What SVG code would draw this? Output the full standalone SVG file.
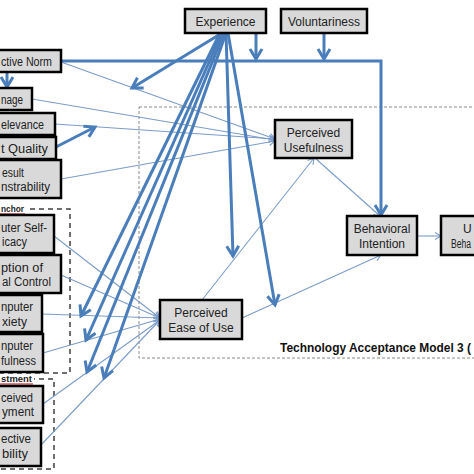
<svg xmlns="http://www.w3.org/2000/svg" width="474" height="474" viewBox="0 0 474 474">
<defs>
<style>
.box{fill:#d9d9d9;stroke:#000;stroke-width:2.5}
.t{font-family:"Liberation Sans",Arial,sans-serif;font-size:12px;fill:#222}
.tm{text-anchor:middle}
.thin{fill:none;stroke:#7b9cc9;stroke-width:1.1}
.thick{fill:none;stroke:#4a7ebb;stroke-width:3}
.grp{fill:none;stroke:#404040;stroke-width:1.5;stroke-dasharray:5,4}
.lbl{font-family:"Liberation Sans",Arial,sans-serif;font-size:9px;font-weight:bold;fill:#222}
</style>
<marker id="ah" markerUnits="userSpaceOnUse" viewBox="-12 -8 14 16" refX="0" refY="0" markerWidth="14" markerHeight="16" orient="auto" overflow="visible">
<path d="M-10,-6 L0,0 L-10,6" fill="none" stroke="#4a7ebb" stroke-width="3"/>
</marker>
<marker id="as" markerUnits="userSpaceOnUse" viewBox="-8 -5 10 10" refX="0" refY="0" markerWidth="10" markerHeight="10" orient="auto" overflow="visible">
<path d="M-6,-3.5 L0,0 L-6,3.5" fill="none" stroke="#7b9cc9" stroke-width="1.1"/>
</marker>
</defs>
<rect width="474" height="474" fill="#fff"/>

<g id="groups">
<rect x="139" y="107" width="400" height="251" fill="none" stroke="#8a8a8a" stroke-width="1" stroke-dasharray="3,2"/>
<rect class="grp" x="-60" y="209" width="130" height="164"/>
<rect class="grp" x="-60" y="379" width="114" height="90"/>
<rect x="0" y="204" width="27" height="11" fill="#fff"/>
<text class="lbl" x="1" y="212" textLength="23" lengthAdjust="spacingAndGlyphs">nchor</text>
<line x1="0" y1="214" x2="25" y2="214" stroke="#c00000" stroke-width="1"/>
<rect x="0" y="374" width="34" height="10" fill="#fff"/>
<text class="lbl" x="1" y="382" textLength="31" lengthAdjust="spacingAndGlyphs">stment</text>
<line x1="0" y1="384" x2="33" y2="384" stroke="#c00000" stroke-width="1"/>
<text x="280" y="352" font-family="Liberation Sans,Arial,sans-serif" font-size="12" font-weight="bold" fill="#111" textLength="191" lengthAdjust="spacingAndGlyphs">Technology Acceptance Model 3 (</text>
</g>

<g id="connectors">
<path class="thin" marker-end="url(#as)" d="M61,62 L275,139"/>
<path class="thin" marker-end="url(#as)" d="M32,99 L275,140"/>
<path class="thin" marker-end="url(#as)" d="M55,124 L275,139"/>
<path class="thin" marker-end="url(#as)" d="M61,179 L275,141"/>
<path class="thin" marker-end="url(#as)" d="M202,300 L314,158"/>
<path class="thin" marker-end="url(#as)" d="M315,158 L380,216"/>
<path class="thin" marker-end="url(#as)" d="M242,318 L381,255"/>
<path class="thin" marker-end="url(#as)" d="M417,236 L441,236"/>
<path class="thin" marker-end="url(#as)" d="M54,236 L160,318"/>
<path class="thin" marker-end="url(#as)" d="M61,275 L160,318"/>
<path class="thin" marker-end="url(#as)" d="M42,314 L160,318"/>
<path class="thin" marker-end="url(#as)" d="M43,353 L160,319"/>
<path class="thin" marker-end="url(#as)" d="M43,404 L160,320"/>
<path class="thin" marker-end="url(#as)" d="M41,445 L160,320"/>

<path class="thick" marker-end="url(#ah)" d="M61,61 L381,61 L381,215"/>
<path class="thick" marker-end="url(#ah)" d="M256,33 L256,59"/>
<path class="thick" marker-end="url(#ah)" d="M324,33 L324,59"/>
<path class="thick" marker-end="url(#ah)" d="M7,72 L7,87"/>
<path class="thick" marker-end="url(#ah)" d="M56,147 L95,127"/>
<path class="thick" marker-end="url(#ah)" d="M222,33 L132,88"/>
<path class="thick" marker-end="url(#ah)" d="M220,33 L81,316"/>
<path class="thick" marker-end="url(#ah)" d="M222,33 L86,340"/>
<path class="thick" marker-end="url(#ah)" d="M224,33 L87,372"/>
<path class="thick" marker-end="url(#ah)" d="M226,33 L104,378"/>
<path class="thick" marker-end="url(#ah)" d="M226,33 L233,256"/>
<path class="thick" marker-end="url(#ah)" d="M228,33 L275,305"/>
</g>

<g id="experience"><rect class="box" x="185" y="9" width="81" height="24"/><text class="t tm" x="225.5" y="25.5">Experience</text></g>
<g id="voluntariness"><rect class="box" x="281" y="9" width="86" height="24"/><text class="t tm" x="324" y="25.5">Voluntariness</text></g>
<g id="subjective-norm"><rect class="box" x="-50" y="50" width="111" height="22"/><text class="t" x="1" y="65.5" textLength="51" lengthAdjust="spacingAndGlyphs">ctive Norm</text></g>
<g id="image"><rect class="box" x="-50" y="88" width="82" height="22"/><text class="t" x="1" y="103.5" textLength="22" lengthAdjust="spacingAndGlyphs">nage</text></g>
<g id="job-relevance"><rect class="box" x="-50" y="113" width="105" height="22"/><text class="t" x="1" y="128.5" textLength="43" lengthAdjust="spacingAndGlyphs">elevance</text></g>
<g id="output-quality"><rect class="box" x="-50" y="137" width="106" height="22"/><text class="t" x="1" y="152.5" textLength="47" lengthAdjust="spacingAndGlyphs">t Quality</text></g>
<g id="result-demonstrability"><rect class="box" x="-50" y="160" width="111" height="38"/><text class="t" x="2" y="177" textLength="22" lengthAdjust="spacingAndGlyphs">esult</text><text class="t" x="1" y="191" textLength="49" lengthAdjust="spacingAndGlyphs">nstrability</text></g>
<g id="computer-self-efficacy"><rect class="box" x="-50" y="215" width="104" height="38"/><text class="t" x="1" y="232" textLength="46" lengthAdjust="spacingAndGlyphs">uter Self-</text><text class="t" x="2" y="246" textLength="25" lengthAdjust="spacingAndGlyphs">icacy</text></g>
<g id="perception-external-control"><rect class="box" x="-50" y="255" width="111" height="38"/><text class="t" x="1" y="272" textLength="42" lengthAdjust="spacingAndGlyphs">ption of</text><text class="t" x="2" y="286" textLength="49" lengthAdjust="spacingAndGlyphs">al Control</text></g>
<g id="computer-anxiety"><rect class="box" x="-50" y="295" width="92" height="37"/><text class="t" x="1" y="311" textLength="32" lengthAdjust="spacingAndGlyphs">nputer</text><text class="t" x="2" y="326" textLength="25" lengthAdjust="spacingAndGlyphs">xiety</text></g>
<g id="computer-playfulness"><rect class="box" x="-50" y="334" width="93" height="38"/><text class="t" x="1" y="350" textLength="32" lengthAdjust="spacingAndGlyphs">nputer</text><text class="t" x="1" y="365" textLength="35" lengthAdjust="spacingAndGlyphs">fulness</text></g>
<g id="perceived-enjoyment"><rect class="box" x="-50" y="386" width="93" height="37"/><text class="t" x="1" y="402" textLength="32" lengthAdjust="spacingAndGlyphs">ceived</text><text class="t" x="2" y="416" textLength="32" lengthAdjust="spacingAndGlyphs">yment</text></g>
<g id="objective-usability"><rect class="box" x="-50" y="428" width="91" height="38"/><text class="t" x="1" y="443" textLength="30" lengthAdjust="spacingAndGlyphs">ective</text><text class="t" x="2" y="458" textLength="26" lengthAdjust="spacingAndGlyphs">bility</text></g>
<g id="perceived-usefulness"><rect class="box" x="275" y="120" width="77" height="38"/><text class="t tm" x="313.5" y="137">Perceived</text><text class="t tm" x="313.5" y="152">Usefulness</text></g>
<g id="behavioral-intention"><rect class="box" x="347" y="216" width="70" height="39"/><text class="t tm" x="382" y="233">Behavioral</text><text class="t tm" x="382" y="248">Intention</text></g>
<g id="use-behavior"><rect class="box" x="441" y="216" width="72" height="39"/><text class="t" x="463" y="233">U</text><text class="t" x="451" y="248" textLength="20" lengthAdjust="spacingAndGlyphs">Beha</text></g>
<g id="perceived-ease-of-use"><rect class="box" x="160" y="300" width="82" height="39"/><text class="t tm" x="201" y="317">Perceived</text><text class="t tm" x="201" y="332">Ease of Use</text></g>
</svg>
